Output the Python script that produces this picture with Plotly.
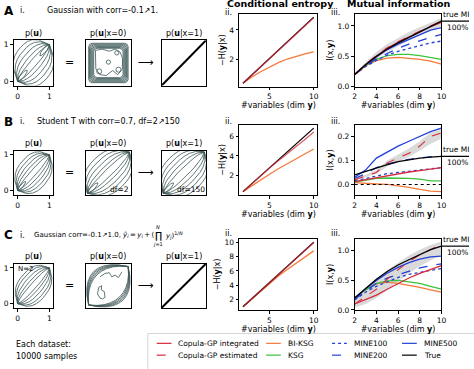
import plotly.graph_objects as go

W, H = 474, 369
FONT = "DejaVu Sans"

# ---------------- data ----------------
DIMS = [2, 3, 4, 5, 6, 7, 8, 9, 10]

# Row A  (Gaussian)
A_H_TRUE = [0.35, 0.92, 1.49, 2.05, 2.62, 3.18, 3.75, 4.31, 4.88]
A_H_CGP = [0.35, 0.91, 1.48, 2.04, 2.60, 3.16, 3.72, 4.28, 4.84]
A_H_BIKSG = [0.35, 0.78, 1.14, 1.47, 1.76, 2.01, 2.21, 2.37, 2.50]
A_MI_TRUE = [0.20, 0.36, 0.50, 0.62, 0.72, 0.81, 0.90, 0.99, 1.08]
A_MI_CGP_INT = [0.20, 0.36, 0.50, 0.63, 0.73, 0.82, 0.91, 0.99, 1.06]
A_MI_CGP_EST = [0.20, 0.37, 0.51, 0.64, 0.74, 0.83, 0.92, 1.00, 1.08]
A_MI_BAND_LO = [0.19, 0.33, 0.46, 0.57, 0.67, 0.76, 0.85, 0.93, 1.00]
A_MI_BAND_HI = [0.21, 0.40, 0.57, 0.70, 0.80, 0.90, 0.98, 1.05, 1.13]
A_MI_BIKSG = [0.20, 0.34, 0.43, 0.47, 0.48, 0.47, 0.45, 0.42, 0.37]
A_MI_KSG = [0.20, 0.35, 0.45, 0.51, 0.53, 0.53, 0.51, 0.48, 0.45]
A_MI_MINE100 = [0.20, 0.33, 0.43, 0.52, 0.58, 0.63, 0.68, 0.72, 0.75]
A_MI_MINE200 = [0.20, 0.34, 0.46, 0.55, 0.63, 0.70, 0.76, 0.81, 0.86]
A_MI_MINE500 = [0.20, 0.36, 0.49, 0.61, 0.70, 0.78, 0.86, 0.93, 0.97]

# Row B  (Student T)
B_H_TRUE = [0.40, 1.20, 2.00, 2.80, 3.60, 4.40, 5.20, 6.00, 6.80]
B_H_CGP = [0.40, 1.20, 2.00, 2.78, 3.50, 4.20, 4.90, 5.65, 6.40]
B_H_BIKSG = [0.40, 1.00, 1.60, 2.15, 2.70, 3.20, 3.70, 4.20, 4.70]
B_MI_TRUE = [0.040, 0.055, 0.070, 0.083, 0.095, 0.103, 0.110, 0.114, 0.117]
B_MI_CGP_INT = [0.012, 0.020, 0.030, 0.038, 0.045, 0.052, 0.058, 0.065, 0.070]
B_MI_CGP_EST = [0.020, 0.035, 0.050, 0.090, 0.110, 0.130, 0.160, 0.200, 0.215]
B_MI_BAND_LO = [0.015, 0.030, 0.045, 0.075, 0.095, 0.115, 0.140, 0.170, 0.190]
B_MI_BAND_HI = [0.025, 0.040, 0.060, 0.100, 0.125, 0.150, 0.180, 0.215, 0.230]
B_MI_BIKSG = [0.008, 0.004, 0.002, 0.000, -0.005, -0.012, -0.020, -0.028, -0.030]
B_MI_KSG = [0.010, 0.018, 0.025, 0.027, 0.027, 0.025, 0.022, 0.015, 0.015]
B_MI_MINE100 = [0.015, 0.025, 0.035, 0.045, 0.050, 0.055, 0.060, 0.065, 0.070]
B_MI_MINE200 = [0.025, 0.045, 0.070, 0.085, 0.095, 0.105, 0.110, 0.115, 0.120]
B_MI_MINE500 = [0.030, 0.060, 0.110, 0.135, 0.160, 0.180, 0.200, 0.220, 0.235]
B_MI_ZERO = [0, 0, 0, 0, 0, 0, 0, 0, 0]

# Row C  (Gaussian + product transform)
C_H_TRUE = [1.00, 2.12, 3.25, 4.37, 5.50, 6.62, 7.75, 8.87, 10.00]
C_H_CGP = [1.00, 2.12, 3.25, 4.37, 5.50, 6.62, 7.75, 8.87, 9.98]
C_H_BIKSG = [1.00, 2.10, 3.20, 4.30, 5.30, 6.20, 7.10, 7.95, 8.80]
C_MI_TRUE = [0.20, 0.36, 0.52, 0.65, 0.76, 0.85, 0.94, 1.02, 1.08]
C_MI_CGP_INT = [0.10, 0.17, 0.25, 0.35, 0.45, 0.54, 0.62, 0.69, 0.75]
C_MI_CGP_EST = [0.10, 0.22, 0.35, 0.52, 0.68, 0.82, 0.93, 1.02, 1.12]
C_MI_BAND_LO = [0.04, 0.10, 0.20, 0.34, 0.48, 0.62, 0.74, 0.84, 0.92]
C_MI_BAND_HI = [0.20, 0.36, 0.52, 0.67, 0.80, 0.92, 1.02, 1.10, 1.16]
C_MI_BIKSG = [0.20, 0.34, 0.44, 0.47, 0.45, 0.42, 0.38, 0.34, 0.30]
C_MI_KSG = [0.20, 0.34, 0.45, 0.49, 0.50, 0.48, 0.45, 0.40, 0.35]
C_MI_MINE100 = [0.17, 0.30, 0.40, 0.48, 0.55, 0.60, 0.64, 0.67, 0.70]
C_MI_MINE200 = [0.18, 0.32, 0.45, 0.54, 0.60, 0.66, 0.71, 0.75, 0.78]
C_MI_MINE500 = [0.20, 0.36, 0.50, 0.62, 0.72, 0.80, 0.86, 0.90, 0.91]

# contour illustration: half-widths of lens-shaped density contours
LENS_PROFILE = [0, 0.55, 0.80, 0.93, 0.98, 1.0, 0.98, 0.93, 0.80, 0.55, 0]
EYE_PROFILE = [0, 0.38, 0.66, 0.85, 0.96, 1.0, 0.96, 0.85, 0.66, 0.38, 0]
A_PU_WIDTHS = [0.07, 0.15, 0.24, 0.33, 0.42]
B_PU_WIDTHS = [0.06, 0.13, 0.20, 0.27, 0.34]
B_X0_WIDTHS = [0.06, 0.12, 0.19, 0.26, 0.33]
B_X1_WIDTHS = [0.07, 0.14, 0.21, 0.28, 0.35]
C_PU_WIDTHS = [0.06, 0.12, 0.19, 0.26, 0.32]
C_X0_WIDTHS = [0.27, 0.29, 0.31, 0.33, 0.35]
A_X0_RING_INSETS = [0.03, 0.05, 0.07, 0.09, 0.11, 0.13, 0.15]
A_X0_INNER_X = [0.19, 0.35, 0.52, 0.66, 0.78, 0.84, 0.83, 0.72, 0.60, 0.45, 0.30, 0.20, 0.19]
A_X0_INNER_Y = [0.80, 0.83, 0.78, 0.83, 0.76, 0.60, 0.35, 0.22, 0.32, 0.20, 0.22, 0.36, 0.80]
C_X0_INNER_X = [0.24, 0.27, 0.34, 0.33, 0.40, 0.42, 0.36, 0.30, 0.24]
C_X0_INNER_Y = [0.30, 0.46, 0.50, 0.40, 0.36, 0.22, 0.18, 0.20, 0.30]
C_X0_UPPER_X = [0.30, 0.42, 0.52, 0.58, 0.66, 0.74, 0.82]
C_X0_UPPER_Y = [0.72, 0.80, 0.82, 0.72, 0.76, 0.70, 0.84]

# ---------------- style ----------------
RED = "#d62a3c"
ORANGE = "#f5793a"
GREEN = "#3cc23c"
BLUE = "#2340d8"
BLACK = "#000000"
CONT = "#3c5555"

fig = go.Figure()
layout = dict(
    width=W, height=H, margin=dict(l=0, r=0, t=0, b=0),
    paper_bgcolor="white", plot_bgcolor="white",
    font=dict(family=FONT, size=8, color="black"),
    showlegend=False,
)
annotations = []
shapes = []


def dom(x0, x1, y0, y1):
    return [x0 / W, x1 / W], [1 - y1 / H, 1 - y0 / H]


def set_axes(i, box, xr, yr, xticks=None, yticks=None, xtitle=None, ytitle=None):
    dx, dy = dom(*box)
    common = dict(showline=True, mirror=True, linecolor="black", linewidth=0.8,
                  showgrid=False, zeroline=False, ticklen=3, tickwidth=0.8,
                  tickcolor="black", tickfont=dict(size=7.5, family=FONT))
    xa = dict(common, domain=dx, range=xr, anchor=f"y{i}")
    ya = dict(common, domain=dy, range=yr, anchor=f"x{i}")
    if xticks is None:
        xa.update(showticklabels=False, ticks="")
    else:
        xa.update(tickvals=xticks, ticks="outside")
    if yticks is None:
        ya.update(showticklabels=False, ticks="")
    else:
        ya.update(tickvals=yticks, ticks="outside")
    if xtitle:
        xa["title"] = dict(text=xtitle, font=dict(size=8), standoff=1)
    if ytitle:
        ya["title"] = dict(text=ytitle, font=dict(size=8), standoff=2)
    key = "" if i == 1 else str(i)
    layout["xaxis" + key] = xa
    layout["yaxis" + key] = ya


def line(i, x, y, color, dash="solid", width=1.3, opacity=1.0):
    key = "" if i == 1 else str(i)
    fig.add_trace(go.Scatter(x=x, y=y, mode="lines", line=dict(color=color, dash=dash, width=width),
                             opacity=opacity, xaxis="x" + key, yaxis="y" + key, hoverinfo="skip"))


def band(i, lo, hi, color="rgba(150,150,150,0.35)"):
    key = "" if i == 1 else str(i)
    fig.add_trace(go.Scatter(x=DIMS, y=lo, mode="lines", line=dict(width=0), xaxis="x" + key, yaxis="y" + key,
                             hoverinfo="skip"))
    fig.add_trace(go.Scatter(x=DIMS, y=hi, mode="lines", line=dict(width=0), fill="tonexty", fillcolor=color,
                             xaxis="x" + key, yaxis="y" + key, hoverinfo="skip"))


def lens(i, w, t0=0.0, t1=1.0, color=CONT, width=0.8, prof=LENS_PROFILE):
    n = len(prof)
    ts = [t0 + (t1 - t0) * k / (n - 1) for k in range(n)]
    up = [(t - w * p, t + w * p) for t, p in zip(ts, prof)]
    lo = [(t + w * p, t - w * p) for t, p in zip(ts, prof)][::-1]
    pts = up + lo[1:]
    line(i, [p[0] for p in pts], [p[1] for p in pts], color, width=width)


def ring(i, a, r=0.08, color=CONT, width=0.8):
    b = 1 - a
    q = r * 0.3
    pts = [(a, a + r), (a, b - r), (a + q, b - q), (a + r, b), (b - r, b), (b - q, b - q), (b, b - r),
           (b, a + r), (b - q, a + q), (b - r, a), (a + r, a), (a + q, a + q), (a, a + r)]
    line(i, [p[0] for p in pts], [p[1] for p in pts], color, width=width)


def text(x, y, s, size=8, xanchor="left", yanchor="middle", bold=False):
    if bold:
        s = "<b>" + s + "</b>"
    annotations.append(dict(x=x / W, y=1 - y / H, xref="paper", yref="paper", text=s, showarrow=False,
                            xanchor=xanchor, yanchor=yanchor, font=dict(size=size, family=FONT),
                            borderpad=0))


# ---------------- panel boxes (px) ----------------
ROW_Y = {"A": (40, 86), "B": (152, 197), "C": (267, 312)}
LINE_Y = {"A": (13, 87), "B": (126, 197), "C": (242, 314)}
CONT_X = [(12, 52), (85, 131), (162, 207)]
II_X = (241, 320)
III_X = (358, 446)

XT = "#variables (dim <b>y</b>)"

idx = {}
n = 1
for r in "ABC":
    for k in range(3):
        idx[(r, k)] = n
        n += 1
    idx[(r, "ii")] = n
    n += 1
    idx[(r, "iii")] = n
    n += 1

for r in "ABC":
    y0, y1 = ROW_Y[r]
    for k, (x0, x1) in enumerate(CONT_X):
        if k == 0:
            set_axes(idx[(r, k)], (x0, x1, y0, y1), [-0.12, 1.12], [-0.12, 1.12], xticks=[0, 1], yticks=[0, 1])
        else:
            rr = [0, 1] if (r in "AC" and k == 2) else [-0.04, 1.04]
            set_axes(idx[(r, k)], (x0, x1, y0, y1), rr, rr)

set_axes(idx[("A", "ii")], (*II_X, *LINE_Y["A"]), [1.6, 10.4], [0.12, 5.11], xticks=[5, 10], yticks=[2, 4],
         xtitle=XT, ytitle="\u2212H(<b>y</b>|x)")
set_axes(idx[("A", "iii")], (*III_X, *LINE_Y["A"]), [2, 10], [0, 1.2], xticks=[2, 4, 6, 8, 10],
         yticks=[0, 0.5, 1.0], xtitle=XT, ytitle="I(x,<b>y</b>)")
set_axes(idx[("B", "ii")], (*II_X, *LINE_Y["B"]), [1.6, 10.4], [0.08, 7.12], xticks=[5, 10], yticks=[2, 4, 6],
         xtitle=XT, ytitle="\u2212H(<b>y</b>|x)")
set_axes(idx[("B", "iii")], (*III_X, *LINE_Y["B"]), [2, 10], [-0.043, 0.248], xticks=[2, 4, 6, 8, 10],
         yticks=[0, 0.1, 0.2], xtitle=XT, ytitle="I(x,<b>y</b>)")
set_axes(idx[("C", "ii")], (*II_X, *LINE_Y["C"]), [1.6, 10.4], [0.55, 10.45], xticks=[5, 10],
         yticks=[2, 4, 6, 8, 10], xtitle=XT, ytitle="\u2212H(<b>y</b>|x)")
set_axes(idx[("C", "iii")], (*III_X, *LINE_Y["C"]), [2, 10], [0, 1.2], xticks=[2, 4, 6, 8, 10],
         yticks=[0, 0.5, 1.0], xtitle=XT, ytitle="I(x,<b>y</b>)")
for r in "ABC":
    layout[f"yaxis{idx[(r, 'iii')]}"]["tickformat"] = ".1f"

# ---------------- contour illustrations ----------------
for w in A_PU_WIDTHS:
    lens(idx[("A", 0)], w)
lens(idx[("A", 0)], 0.04, 0.0, 0.3)
lens(idx[("A", 0)], 0.04, 0.7, 1.0)
for a in A_X0_RING_INSETS:
    ring(idx[("A", 1)], a, color="#4a6464", width=0.9)
line(idx[("A", 1)], A_X0_INNER_X, A_X0_INNER_Y, CONT, width=0.8)
line(idx[("A", 2)], [0, 1], [0, 1], BLACK, width=2)

for w in B_PU_WIDTHS:
    lens(idx[("B", 0)], w)
lens(idx[("B", 0)], 0.03, 0.0, 0.25)
for w in B_X0_WIDTHS:
    lens(idx[("B", 1)], w)
lens(idx[("B", 1)], 0.03, 0.0, 0.25)
for w in B_X1_WIDTHS:
    lens(idx[("B", 2)], w)
lens(idx[("B", 2)], 0.03, 0.0, 0.25)

for w in C_PU_WIDTHS:
    lens(idx[("C", 0)], w)
for w in C_X0_WIDTHS:
    lens(idx[("C", 1)], w, 0.03, 0.97, prof=EYE_PROFILE)
line(idx[("C", 1)], C_X0_INNER_X, C_X0_INNER_Y, CONT, width=0.8)
line(idx[("C", 1)], C_X0_UPPER_X, C_X0_UPPER_Y, CONT, width=0.8)
line(idx[("C", 2)], [0, 1], [0, 1], BLACK, width=2)

for cx, cy, rad in [(0.50, 0.52, 0.05), (0.70, 0.74, 0.05), (0.74, 0.34, 0.06), (0.28, 0.30, 0.06)]:
    shapes.append(dict(type="circle", xref=f"x{idx[('A', 1)]}", yref=f"y{idx[('A', 1)]}",
                       x0=cx - rad, x1=cx + rad, y0=cy - rad, y1=cy + rad, line=dict(color=CONT, width=0.8)))

# ---------------- conditional entropy ----------------
for r, (ht, hc, hb) in {"A": (A_H_TRUE, A_H_CGP, A_H_BIKSG), "B": (B_H_TRUE, B_H_CGP, B_H_BIKSG),
                        "C": (C_H_TRUE, C_H_CGP, C_H_BIKSG)}.items():
    i = idx[(r, "ii")]
    line(i, DIMS, hb, ORANGE)
    line(i, DIMS, ht, BLACK)
    line(i, DIMS, hc, RED, opacity=0.75)

# ---------------- mutual information ----------------
MI = {
    "A": (A_MI_TRUE, A_MI_CGP_INT, A_MI_CGP_EST, A_MI_BAND_LO, A_MI_BAND_HI, A_MI_BIKSG, A_MI_KSG,
          A_MI_MINE100, A_MI_MINE200, A_MI_MINE500),
    "B": (B_MI_TRUE, B_MI_CGP_INT, B_MI_CGP_EST, B_MI_BAND_LO, B_MI_BAND_HI, B_MI_BIKSG, B_MI_KSG,
          B_MI_MINE100, B_MI_MINE200, B_MI_MINE500),
    "C": (C_MI_TRUE, C_MI_CGP_INT, C_MI_CGP_EST, C_MI_BAND_LO, C_MI_BAND_HI, C_MI_BIKSG, C_MI_KSG,
          C_MI_MINE100, C_MI_MINE200, C_MI_MINE500),
}
for r, (tr, ci, ce, lo, hi, bk, ks, m1, m2, m5) in MI.items():
    i = idx[(r, "iii")]
    band(i, lo, hi)
    line(i, DIMS, bk, ORANGE)
    line(i, DIMS, ks, GREEN)
    line(i, DIMS, m1, BLUE, dash="dot")
    line(i, DIMS, m2, BLUE, dash="dash")
    line(i, DIMS, m5, BLUE)
    line(i, DIMS, ci, RED)
    line(i, DIMS, ce, RED, dash="dash", width=1.1)
    if r == "B":
        line(i, DIMS, B_MI_ZERO, BLACK, dash="dot", width=1.1)
    line(i, DIMS, tr, BLACK)
    shapes.append(dict(type="line", xref="paper", yref=f"y{i}", x0=III_X[1] / W, x1=1.0,
                       y0=tr[-1], y1=tr[-1], line=dict(color="black", width=1.2)))
    y0, y1 = LINE_Y[r]
    rng = layout[f"yaxis{i}"]["range"]
    frac = (tr[-1] - rng[0]) / (rng[1] - rng[0])
    ypx = y1 - frac * (y1 - y0)
    text(446.5, ypx - 1, "true MI", size=7.5, yanchor="bottom")
    text(473.5, ypx + 1, "100%", size=7.5, xanchor="right", yanchor="top")

# ---------------- headings ----------------
text(1, 10, "A", size=12, bold=True)
text(17, 10, "i.", size=8)
text(45, 10, "Gaussian with corr=-0.1\u21971.", size=8)
text(1, 123, "B", size=12, bold=True)
text(17, 123, "i.", size=8)
text(35, 123, "Student T with corr=0.7, df=2\u2197150", size=8)
text(1, 238, "C", size=12, bold=True)
text(17, 238, "i.", size=8)
text(31, 238, "Gaussian corr=-0.1\u21971.0, <i>\u0177<sub>i</sub></i>\u2009=\u2009<i>y<sub>i</sub></i>"
     "\u2009+\u2009(", size=7)
text(158.5, 238.5, "\u220f", size=9.5, xanchor="center")
text(158.5, 229.5, "<i>N</i>", size=5, xanchor="center")
text(158.5, 247.5, "<i>j</i>=1", size=5, xanchor="center")
text(164, 238, "<i>y<sub>j</sub></i>)<sup>1/<i>N</i></sup>", size=7)

text(283, 2.5, "Conditional entropy", size=9.5, xanchor="center", bold=True)
text(402, 2.5, "Mutual information", size=9.5, xanchor="center", bold=True)
for r, yy in [("A", 12), ("B", 123), ("C", 236)]:
    text(225, yy, "ii.", size=8)
    text(333, yy, "iii.", size=8)

for r in "ABC":
    y0, _ = ROW_Y[r]
    ty = y0 - 7
    text(32, ty, "p(<b>u</b>)", size=8, xanchor="center")
    text(108, ty, "p(<b>u</b>|x=0)", size=8, xanchor="center")
    text(184.5, ty, "p(<b>u</b>|x=1)", size=8, xanchor="center")
    cy = (ROW_Y[r][0] + ROW_Y[r][1]) / 2
    text(69, cy, "=", size=11, xanchor="center")
    text(146, cy, "\u27f6", size=11, xanchor="center")

text(130, 192, "df=2", size=7.5, xanchor="right")
text(207, 192, "df=150", size=7.5, xanchor="right")
text(15, 272, "N=2", size=7)

text(13, 349, "Each dataset:", size=8)
text(13, 361, "10000 samples", size=8)

# ---------------- manual legend ----------------
shapes.append(dict(type="rect", xref="paper", yref="paper", x0=148 / W, x1=1.02, y0=-0.02, y1=1 - 338 / H,
                   line=dict(color="#cccccc", width=0.8), fillcolor="white"))
LEG = [
    (157, 348, "Copula-GP integrated", RED, "solid"),
    (157, 360, "Copula-GP estimated", RED, "dash"),
    (268, 348, "BI-KSG", ORANGE, "solid"),
    (268, 360, "KSG", GREEN, "solid"),
    (335, 348, "MINE100", BLUE, "dot"),
    (335, 360, "MINE200", BLUE, "dash"),
    (406, 348, "MINE500", BLUE, "solid"),
    (406, 360, "True", BLACK, "solid"),
]
for x, y, label, col, dash in LEG:
    shapes.append(dict(type="line", xref="paper", yref="paper", x0=x / W, x1=(x + 15) / W,
                       y0=1 - y / H, y1=1 - y / H, line=dict(color=col, width=1.2, dash=dash)))
    text(x + 21, y, label, size=7.5)

layout["annotations"] = annotations
layout["shapes"] = shapes
fig.update_layout(**layout)
fig.write_html("out.html", config={"displayModeBar": False},
               post_script="document.body.style.margin='0';document.body.style.overflow='hidden';")
